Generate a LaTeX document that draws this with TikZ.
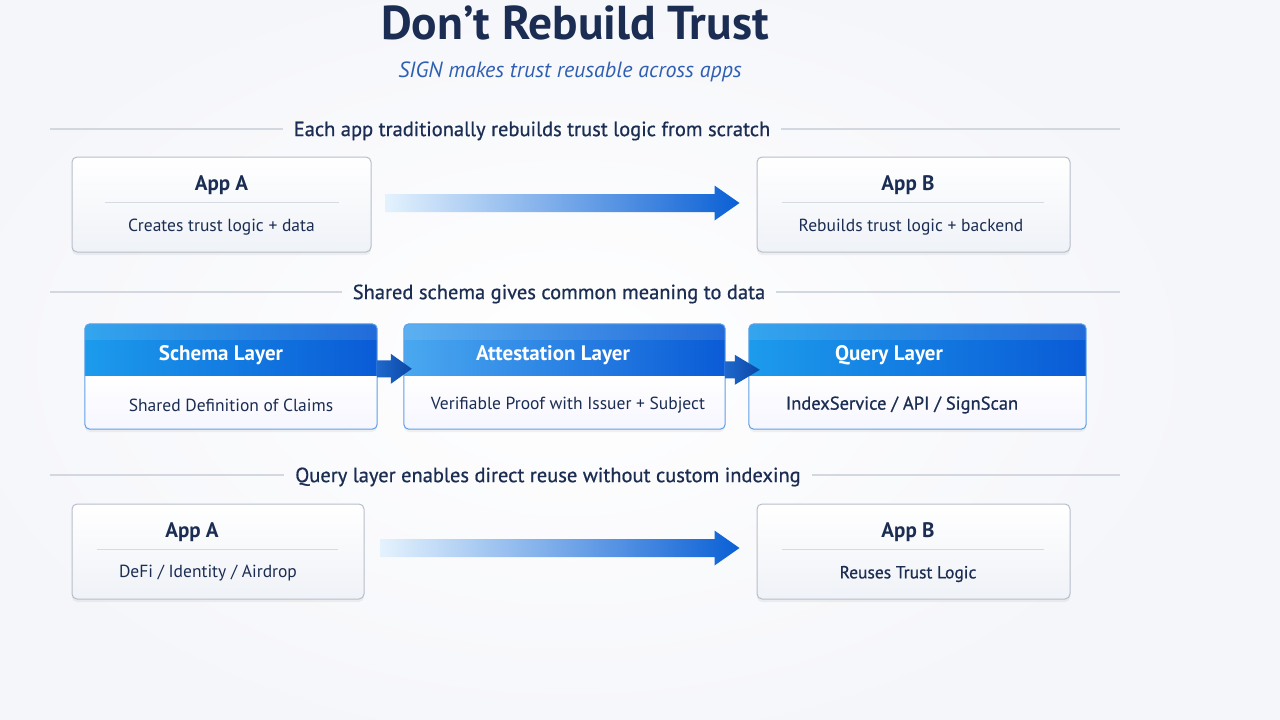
\documentclass[tikz,border=0pt]{standalone}
\usepackage{fontspec}
\setmainfont{PT Sans}
\newfontfamily\medfont[FakeBold=0.7]{PT Sans}
\usetikzlibrary{calc,shadows}
\definecolor{navy}{HTML}{1B2D52}
\definecolor{subblue}{HTML}{2F5FB3}
\definecolor{sepgray}{HTML}{D3D8E0}
\definecolor{boxborder}{HTML}{B7BECB}
\definecolor{boxbot}{HTML}{EFF2F7}
\definecolor{bgc}{HTML}{F5F6FA}
\definecolor{divgray}{HTML}{D6DBE3}
\definecolor{hdrL}{HTML}{1C9BEC}
\definecolor{hdrR}{HTML}{0A5BD6}
\definecolor{hdrL2}{HTML}{4AA8F0}
\definecolor{layerborder}{HTML}{5E9FE6}
\definecolor{arrowL}{HTML}{E4F2FD}
\definecolor{arrowM}{HTML}{62B6F4}
\definecolor{arrowR}{HTML}{0A60D5}
\definecolor{smallL}{HTML}{1F68CC}
\definecolor{smallR}{HTML}{0A47A6}
\newcommand{\fatarrow}[6]{%
  \path[#1] let \p1=(#2), \p2=(#3) in
   (\x1,\y1+#4pt) -- (\x2-#6pt,\y1+#4pt) -- (\x2-#6pt,\y1+#5pt) -- (\x2,\y1)
   -- (\x2-#6pt,\y1-#5pt) -- (\x2-#6pt,\y1-#4pt) -- (\x1,\y1-#4pt) -- cycle;}
\tikzset{
  appbox/.style={draw=boxborder, line width=1pt, rounded corners=5pt,
    top color=white, bottom color=boxbot,
    drop shadow={opacity=0.10, shadow xshift=0pt, shadow yshift=-3pt},
    inner sep=0pt},
  apptitle/.style={text=navy, font=\fontsize{21}{24}\selectfont\bfseries, inner sep=0pt},
  apptext/.style={text=navy, font=\fontsize{17.5}{21}\selectfont, inner sep=0pt},
  layertitle/.style={text=white, font=\fontsize{21}{24}\selectfont\bfseries, inner sep=0pt},
  sechead/.style={text=navy, font=\fontsize{20.5}{24}\medfont, inner sep=0pt},
  sepline/.style={draw=sepgray, line width=1.2pt},
  divline/.style={draw=divgray, line width=1pt},
  bigarrow/.style={left color=arrowL, middle color=arrowM, right color=arrowR},
  smallarrow/.style={left color=smallL, right color=smallR},
}
\begin{document}
\begin{tikzpicture}[x=1pt,y=-1pt]
\useasboundingbox (0,0) rectangle (1280,720);
\fill[bgc] (0,0) rectangle (1280,720);
\shade[inner color=white, outer color=bgc] (570,360) ellipse (640 and 400);

% title
\node[text=navy, font=\fontsize{47.5}{52}\selectfont\bfseries, inner sep=0pt] (title) at (575,23) {Don’t Rebuild Trust};
\node[text=subblue, font=\fontsize{22}{26}\selectfont\itshape, inner sep=0pt] (subtitle) at (570,72) {SIGN makes trust reusable across apps};

% section 1
\node[sechead] (h1) at (532,131) {Each app traditionally rebuilds trust logic from scratch};
\coordinate (h1l) at (50,129);
\coordinate (h1r) at (1120,129);
\draw[sepline] (h1l) -- ([xshift=-11pt]h1.west |- h1l);
\draw[sepline] ([xshift=11pt]h1.east |- h1r) -- (h1r);

\node[appbox, minimum width=299pt, minimum height=95pt] (appA1) at (221.5,204.5) {};
\node[apptitle] (appA1t) at (221.5,185) {App A};
\draw[divline] ($(appA1.west)+(33,-2)$) coordinate (dA1l) -- ($(appA1.east)+(-33,-2)$) coordinate (dA1r);
\node[apptext] (appA1b) at (221.5,227) {Creates trust logic + data};

\node[appbox, minimum width=313pt, minimum height=95pt] (appB1) at (913.5,204.5) {};
\node[apptitle] (appB1t) at (908,185) {App B};
\draw[divline] ($(appB1.west)+(25,-2)$) coordinate (dB1l) -- ($(appB1.east)+(-27,-2)$) coordinate (dB1r);
\node[apptext] (appB1b) at (911,227) {Rebuilds trust logic + backend};

\fatarrow{bigarrow}{$(appA1.east)+(14,-1.5)$}{$(appB1.west)+(-17,-1.5)$}{9}{17.5}{25}

% section 2
\node[sechead] (h2) at (559,294) {Shared schema gives common meaning to data};
\coordinate (h2l) at (50,292);
\coordinate (h2r) at (1120,292);
\draw[sepline] (h2l) -- ([xshift=-11pt]h2.west |- h2l);
\draw[sepline] ([xshift=11pt]h2.east |- h2r) -- (h2r);

% layer boxes
\foreach \nm/\cx/\w/\hl in {schema/231/292/hdrL, attest/564.5/321/hdrL2, query/917.5/337/hdrL}{
  \node[draw=none, fill=white, rounded corners=5pt, minimum width=\w pt, minimum height=105pt,
        drop shadow={opacity=0.10, shadow xshift=0pt, shadow yshift=-3pt}, inner sep=0pt] (\nm) at (\cx,376.5) {};
  \begin{scope}
    \clip[rounded corners=5pt] (\nm.north west) rectangle (\nm.south east);
    \shade[left color=\hl, right color=hdrR] (\nm.north west) rectangle ($(\nm.north east)+(0,53)$);
    \fill[white, opacity=0.10] (\nm.north west) rectangle ($(\nm.north east)+(0,16)$);
    \shade[top color=white, bottom color=white!94!blue!60!white] ($(\nm.north west)+(0,53)$) rectangle (\nm.south east);
  \end{scope}
  \draw[layerborder, line width=1pt, rounded corners=5pt] (\nm.north west) rectangle (\nm.south east);
}
\node[layertitle] (schemat) at (221,355) {Schema Layer};
\node[apptext] (schemab) at (231,405) {Shared Definition of Claims};
\node[layertitle] (attestt) at (553,355) {Attestation Layer};
\node[apptext] (attestb) at (568,405) {Verifiable Proof with Issuer + Subject};
\node[apptext, font=\fontsize{18.5}{22}\medfont] (queryb) at (902,405) {IndexService / API / SignScan};
\node[layertitle] (queryt) at (889,355) {Query Layer};

\fatarrow{smallarrow}{$(schema.north east)+(0,45)$}{$(attest.north west)+(8,45)$}{8.5}{15}{21}
\fatarrow{smallarrow}{$(attest.north east)+(0,46)$}{$(query.north west)+(11,46)$}{8.5}{15}{25}

% section 3
\node[sechead] (h3) at (548,477) {Query layer enables direct reuse without custom indexing};
\coordinate (h3l) at (50,475);
\coordinate (h3r) at (1120,475);
\draw[sepline] (h3l) -- ([xshift=-11pt]h3.west |- h3l);
\draw[sepline] ([xshift=11pt]h3.east |- h3r) -- (h3r);

\node[appbox, minimum width=292pt, minimum height=95pt] (appA2) at (218,551.5) {};
\node[apptitle] (appA2t) at (192,532) {App A};
\draw[divline] ($(appA2.west)+(25,-2)$) coordinate (dA2l) -- ($(appA2.east)+(-27,-2)$) coordinate (dA2r);
\node[apptext] (appA2b) at (208,573) {DeFi / Identity / Airdrop};

\node[appbox, minimum width=313pt, minimum height=95pt] (appB2) at (913.5,551.5) {};
\node[apptitle] (appB2t) at (908,532) {App B};
\draw[divline] ($(appB2.west)+(25,-2)$) coordinate (dB2l) -- ($(appB2.east)+(-27,-2)$) coordinate (dB2r);
\node[apptext, font=\fontsize{17.5}{21}\medfont] (appB2b) at (908,574) {Reuses Trust Logic};

\fatarrow{bigarrow}{$(appA2.east)+(16,-3.5)$}{$(appB2.west)+(-17,-3.5)$}{9}{17.5}{25}
\end{tikzpicture}
\end{document}
